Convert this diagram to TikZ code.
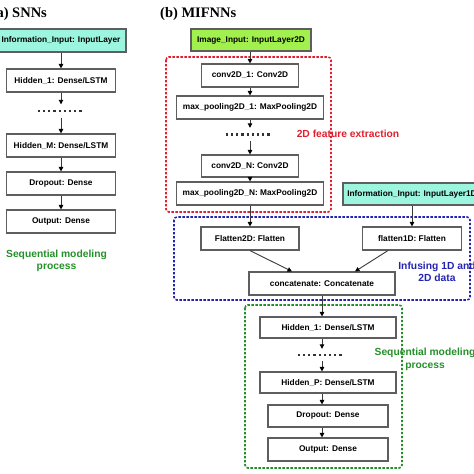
\documentclass[tikz,border=0pt]{standalone}
\usepackage{fontspec}
\setmainfont{Liberation Serif}
\setsansfont{Liberation Sans}
\usetikzlibrary{arrows.meta, positioning}
\definecolor{boxgray}{HTML}{5E5E5E}
\definecolor{linegray}{HTML}{3A3A3A}
\definecolor{infocyan}{HTML}{9CF5DE}
\definecolor{imagegreen}{HTML}{A2F04E}
\definecolor{featred}{HTML}{E0202E}
\definecolor{fuseblue}{HTML}{2424B4}
\definecolor{seqgreen}{HTML}{24902A}
\tikzset{
  layerbox/.style={draw=boxgray, line width=1.1pt, fill=white, minimum height=23pt,
                   inner sep=0pt, font=\sffamily\bfseries\fontsize{8.3}{10}\selectfont},
  layerarrow/.style={-{Triangle[length=4.5pt, width=4.5pt, color=black]}, linegray, line width=0.9pt},
  dotrow/.style={minimum width=44pt, minimum height=13pt, inner sep=0pt},
  dotline/.style={line width=2.2pt, dash pattern=on 2.2pt off 3pt, black!80},
  groupbox/.style={line width=1.6pt, dash pattern=on 2.4pt off 1.6pt, rounded corners=3pt},
  grouplabel/.style={font=\sffamily\bfseries\fontsize{10.3}{12.5}\selectfont, align=center},
  paneltitle/.style={font=\bfseries\fontsize{14.5}{17}\selectfont, anchor=base west, inner sep=0pt},
}

\begin{document}
\begin{tikzpicture}[x=1pt, y=-1pt]
  \useasboundingbox (0,0) rectangle (474,474);

  \node[paneltitle] (titleA) at (-8.5,17) {(a) SNNs};
  \node[paneltitle] (titleB) at (160,17) {(b) MIFNNs};

  % (a) SNNs
  \node[layerbox, fill=infocyan, minimum width=130pt] (infoA) at (61,40.5) {Information\_Input: InputLayer};
  \node[layerbox, minimum width=109pt] (hidA1) at (61,80.5) {Hidden\_1: Dense/LSTM};
  \node[dotrow] (dotsA) at (60,111) {};
  \node[layerbox, minimum width=109pt] (hidAM) at (61,145.5) {Hidden\_M: Dense/LSTM};
  \node[layerbox, minimum width=109pt] (dropA) at (61,183.5) {Dropout: Dense};
  \node[layerbox, minimum width=109pt] (outA) at (61,221.5) {Output: Dense};
  \node[grouplabel, text=seqgreen] (seqA) at (56.5,261) {Sequential modeling\\process};

  \draw[dotline] (dotsA.west) -- (dotsA.east);
  \draw[layerarrow] (infoA) -- (hidA1);
  \draw[layerarrow] (hidA1.south) -- (hidA1 |- dotsA.north);
  \draw[layerarrow] (hidA1 |- dotsA.south) -- (hidAM);
  \draw[layerarrow] (hidAM) -- (dropA);
  \draw[layerarrow] (dropA) -- (outA);

  % (b) MIFNNs
  \draw[groupbox, featred] (166,57) rectangle (331,212);
  \draw[groupbox, fuseblue] (174,217) rectangle (470,300);
  \draw[groupbox, seqgreen] (245,305) rectangle (402,468);

  \node[layerbox, fill=imagegreen, minimum width=120pt, minimum height=22pt] (imgB) at (251,40) {Image\_Input: InputLayer2D};
  \node[layerbox, minimum width=97pt] (conv1) at (250,75.5) {conv2D\_1: Conv2D};
  \node[layerbox, minimum width=147pt] (pool1) at (250,107.5) {max\_pooling2D\_1: MaxPooling2D};
  \node[dotrow] (dotsB) at (248,134.5) {};
  \node[layerbox, minimum width=97pt, minimum height=22pt] (convN) at (250,166) {conv2D\_N: Conv2D};
  \node[layerbox, minimum width=147pt] (poolN) at (250,193.5) {max\_pooling2D\_N: MaxPooling2D};
  \node[grouplabel, text=featred] (featTxt) at (348,134) {2D feature extraction};

  \node[layerbox, fill=infocyan, minimum width=138pt, minimum height=22pt] (info1D) at (412,194) {Information\_Input: InputLayer1D};
  \node[layerbox, minimum width=98pt] (flat2) at (250,238.5) {Flatten2D: Flatten};
  \node[layerbox, minimum width=99pt] (flat1) at (412,238.5) {flatten1D: Flatten};
  \node[layerbox, minimum width=146pt] (concat) at (322,283.5) {concatenate: Concatenate};
  \node[grouplabel, text=fuseblue] (fuseTxt) at (437,272) {Infusing 1D and\\2D data};

  \node[layerbox, minimum width=136pt, minimum height=21pt] (hidB1) at (328,327.5) {Hidden\_1: Dense/LSTM};
  \node[dotrow, minimum height=12pt] (dotsB2) at (320,355) {};
  \node[layerbox, minimum width=136pt, minimum height=21pt] (hidBP) at (328,382.5) {Hidden\_P: Dense/LSTM};
  \node[layerbox, minimum width=120pt, minimum height=22pt] (dropB) at (328,416) {Dropout: Dense};
  \node[layerbox, minimum width=120pt] (outB) at (328,449.5) {Output: Dense};
  \node[grouplabel, text=seqgreen] (seqB) at (425,359.5) {Sequential modeling\\process};

  \draw[dotline] (dotsB.west) -- (dotsB.east);
  \draw[dotline] (dotsB2.west) -- (dotsB2.east);

  \draw[layerarrow] (imgB.south -| conv1) -- (conv1);
  \draw[layerarrow] (conv1) -- (pool1);
  \draw[layerarrow] (pool1.south) -- (pool1 |- dotsB.north);
  \draw[layerarrow] (pool1 |- dotsB.south) -- (convN);
  \draw[layerarrow] (convN) -- (poolN);
  \draw[layerarrow] (poolN) -- (flat2);
  \draw[layerarrow] (info1D) -- (flat1);
  \draw[layerarrow] (flat2.south) -- ([xshift=-30pt]concat.north);
  \draw[layerarrow] ([xshift=-24pt]flat1.south) -- ([xshift=33pt]concat.north);
  \draw[layerarrow] (concat.south) -- (concat.south |- hidB1.north);
  \draw[layerarrow] (concat.south |- hidB1.south) -- (concat.south |- dotsB2.north);
  \draw[layerarrow] (concat.south |- dotsB2.south) -- (concat.south |- hidBP.north);
  \draw[layerarrow] (concat.south |- hidBP.south) -- (concat.south |- dropB.north);
  \draw[layerarrow] (concat.south |- dropB.south) -- (concat.south |- outB.north);
\end{tikzpicture}
\end{document}
